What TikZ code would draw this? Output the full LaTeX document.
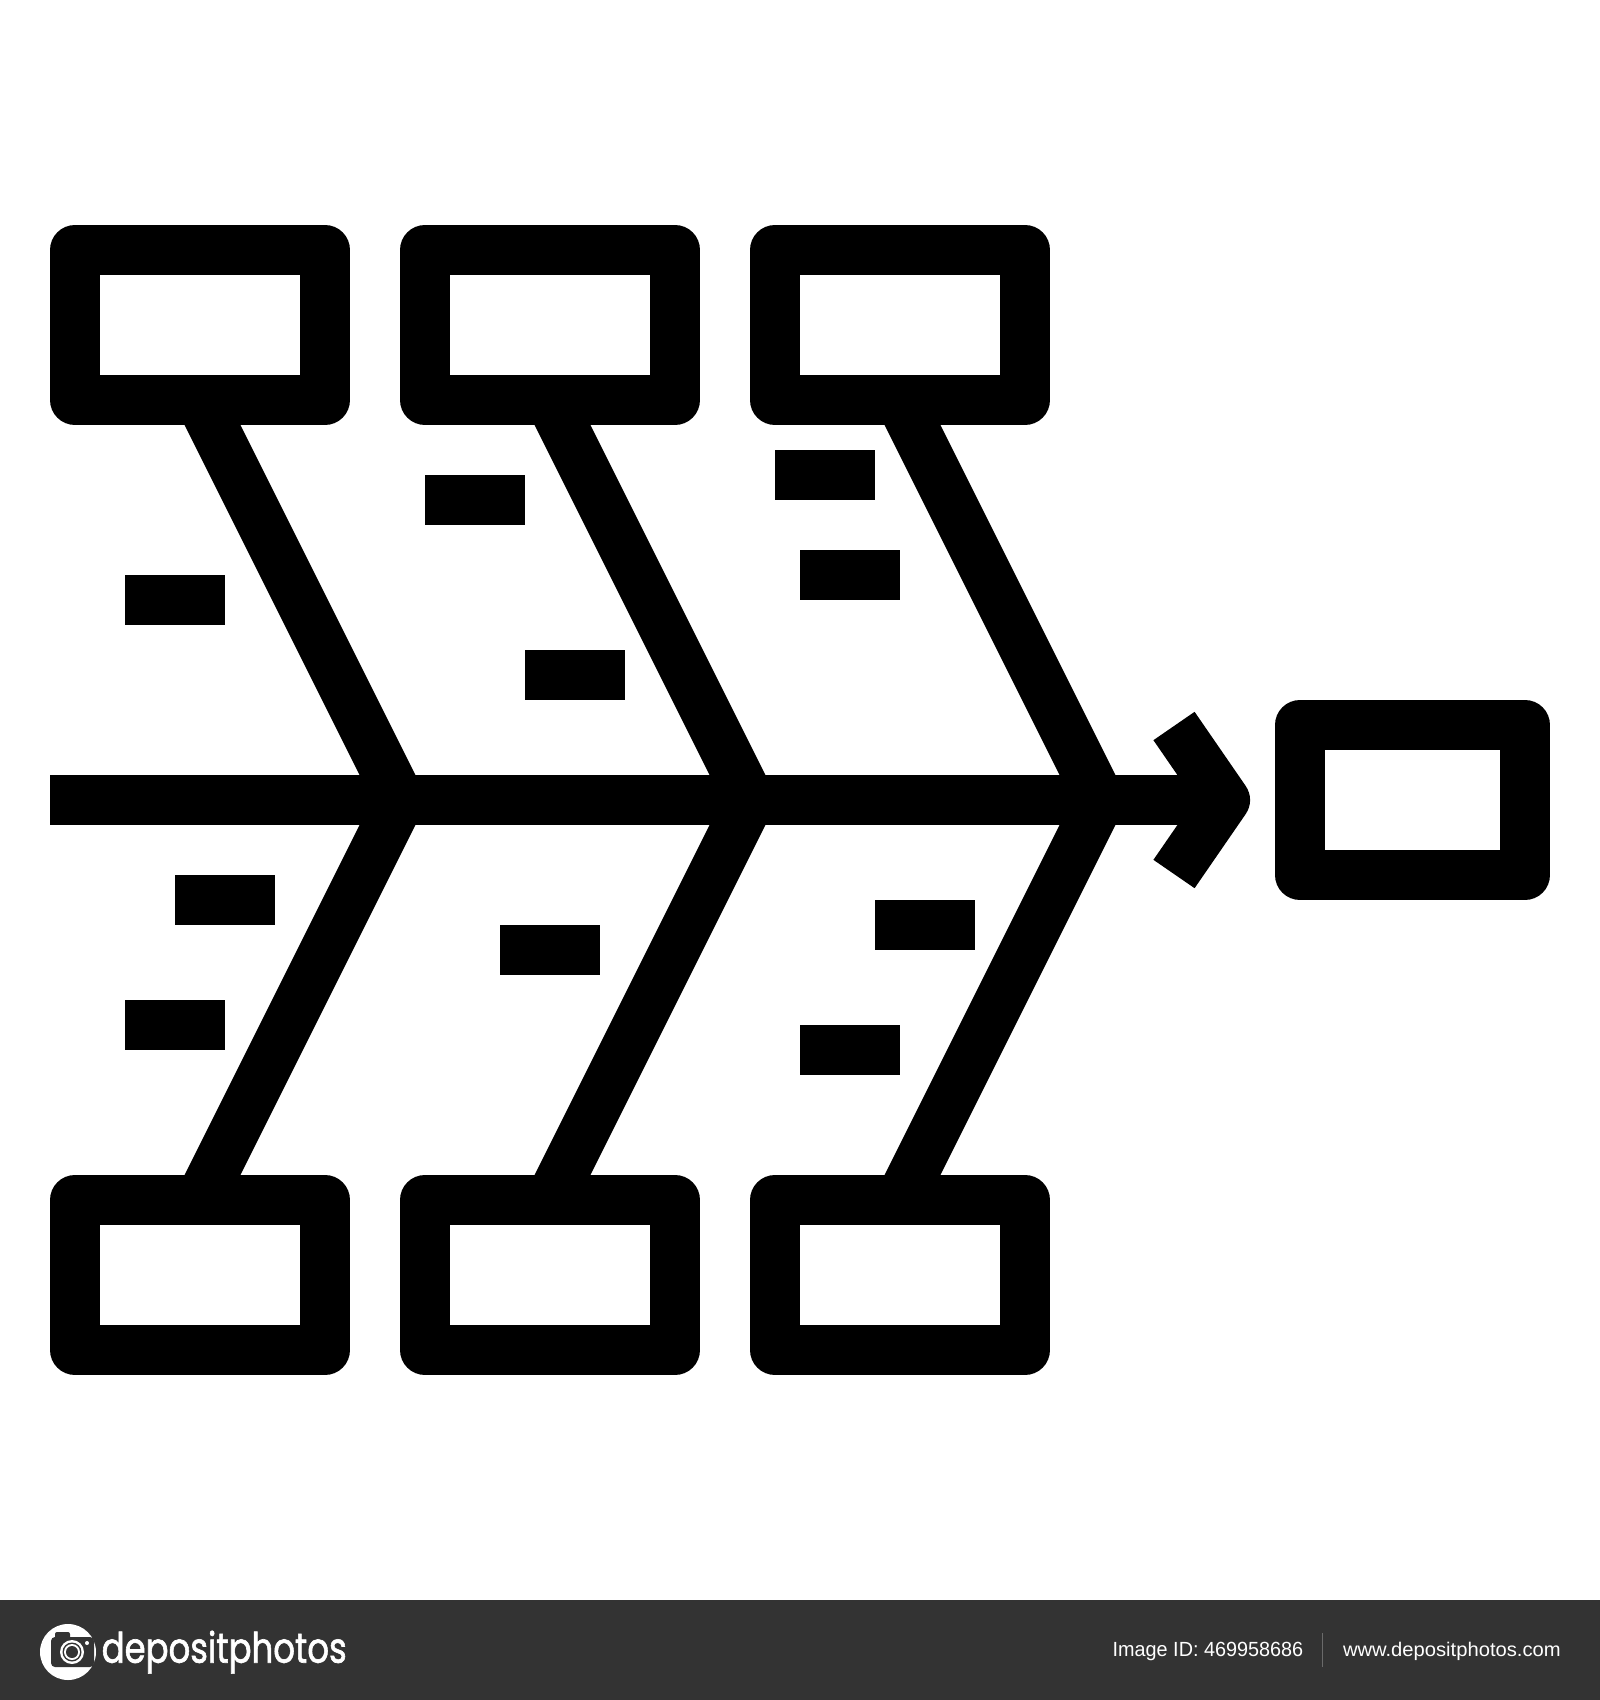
\documentclass[tikz,border=0pt]{standalone}
\usepackage{fontspec}
\newfontfamily\logofont{Poppins}[FakeBold=1.6]
\newfontfamily\footfont{Liberation Sans}
\definecolor{footbg}{HTML}{333333}
\definecolor{sepgray}{HTML}{6A6A6A}
\tikzset{
  bone/.style={line width=50pt, line cap=butt},
  catbox/.style={draw=black, line width=50pt, line join=round, minimum width=250pt, minimum height=150pt, inner sep=0pt, outer sep=0pt},
  effbox/.style={draw=black, line width=50pt, line join=round, minimum width=225pt, minimum height=150pt, inner sep=0pt, outer sep=0pt},
  dashbar/.style={fill=black, minimum width=100pt, minimum height=50pt, inner sep=0pt, outer sep=0pt},
  foottext/.style={anchor=base west, inner sep=0pt, outer sep=0pt, text=white},
}
\begin{document}
\begin{tikzpicture}[x=1pt, y=-1pt]
\useasboundingbox (0,0) rectangle (1600,1700);
\fill[white] (0,0) rectangle (1600,1700);

% cause boxes
\node[catbox] (t1) at (200,325) {};
\node[catbox] (t2) at (550,325) {};
\node[catbox] (t3) at (900,325) {};
\node[catbox] (b1) at (200,1275) {};
\node[catbox] (b2) at (550,1275) {};
\node[catbox] (b3) at (900,1275) {};
% effect box
\node[effbox] (eff) at (1412.5,800) {};

% junctions on the spine
\coordinate (j1) at (400,800);
\coordinate (j2) at (750,800);
\coordinate (j3) at (1100,800);
\coordinate (tail) at (50,800);
\coordinate (head) at (1225,800);
\coordinate (ua) at (1174,726);
\coordinate (la) at (1174,874);

% spine and arrow head
\draw[bone] (tail) -- (head);
\draw[bone, line join=round] (ua) -- (head) -- (la);

% bones
\draw[bone] (t1.south) -- (j1);
\draw[bone] (t2.south) -- (j2);
\draw[bone] (t3.south) -- (j3);
\draw[bone] (b1.north) -- (j1);
\draw[bone] (b2.north) -- (j2);
\draw[bone] (b3.north) -- (j3);

% sub-cause dashes
\node[dashbar] (d1) at (175,600) {};
\node[dashbar] (d2) at (475,500) {};
\node[dashbar] (d3) at (575,675) {};
\node[dashbar] (d4) at (825,475) {};
\node[dashbar] (d5) at (850,575) {};
\node[dashbar] (d6) at (225,900) {};
\node[dashbar] (d7) at (175,1025) {};
\node[dashbar] (d8) at (550,950) {};
\node[dashbar] (d9) at (925,925) {};
\node[dashbar] (d10) at (850,1050) {};

% footer
\fill[footbg] (0,1600) rectangle (1600,1700);
\fill[white] (68,1652) circle (28);
\fill[footbg, rounded corners=4pt] (51,1637) rectangle (94,1667);
\fill[footbg, rounded corners=2pt] (55,1632) rectangle (70,1640);
\fill[white] (72,1652) circle (12);
\fill[footbg] (72,1652) circle (9.5);
\fill[white] (72,1652) circle (8);
\fill[footbg] (72,1652) circle (6);
\fill[white] (87,1643) circle (2);
\node[foottext] (logotext) at (101.7,1662.7) {\resizebox{245pt}{32pt}{\logofont depositphotos}};
\node[foottext] (imgid) at (1112.7,1656) {\resizebox{190.5pt}{14.3pt}{\footfont Image ID: 469958686}};
\coordinate (sepa) at (1322.7,1633);
\coordinate (sepb) at (1322.7,1667);
\draw[sepgray, line width=1pt] (sepa) -- (sepb);
\node[foottext] (url) at (1343,1656) {\resizebox{217.7pt}{14.3pt}{\footfont www.depositphotos.com}};
\end{tikzpicture}
\end{document}
